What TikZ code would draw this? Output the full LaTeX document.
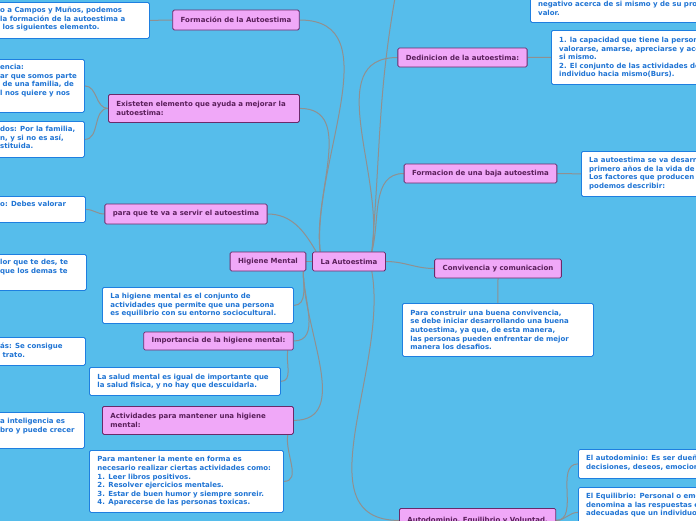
\documentclass[tikz,border=0pt]{standalone}
\usepackage{fontspec}
\setmainfont{DejaVu Sans}
\hyphenpenalty=10000
\exhyphenpenalty=10000
\definecolor{bg}{HTML}{56BDEB}
\definecolor{pk}{HTML}{F0A8F8}
\definecolor{pkd}{HTML}{6A2A6A}
\definecolor{pkt}{HTML}{5A1F5A}
\definecolor{bl}{HTML}{1E7FE0}
\definecolor{blt}{HTML}{1F74D4}
\definecolor{ln}{HTML}{909090}
\pgfdeclarelayer{bgl}
\pgfdeclarelayer{lines}
\pgfsetlayers{bgl,lines,main}
\tikzset{
 fnt/.style={font=\bfseries\fontsize{7}{8.6}\selectfont},
 pbox/.style={fnt,fill=pk,draw=pkd,line width=0.8pt,rounded corners=1.5pt,text=pkt,align=left,inner xsep=8pt,inner ysep=0pt},
 wbox/.style={fnt,fill=white,draw=bl,line width=0.8pt,rounded corners=1.5pt,text=blt,align=left,inner xsep=8pt,inner ysep=0pt,anchor=north west},
 ebox/.style={fill=white,draw=bl,line width=0.8pt,rounded corners=1.5pt,anchor=north west,inner sep=0pt},
 etxt/.style={fnt,text=blt,align=left,anchor=north west,inner sep=0pt},
 con/.style={draw=ln,line width=1pt},
}
\begin{document}
\begin{tikzpicture}[x=1pt,y=-1pt]
\useasboundingbox (0,0) rectangle (696,520);
\clip (0,0) rectangle (696,520);
\begin{pgfonlayer}{bgl}
\fill[bg] (-5,-5) rectangle (701,525);
\end{pgfonlayer}
% main nodes
\node[pbox,minimum width=72,minimum height=19] (c) at (349,261.5) {La Autoestima};
\node[pbox,minimum width=126,minimum height=20] (f) at (236,20) {Formación de la Autoestima};
\node[pbox,minimum width=191,minimum height=28,anchor=north west,text width=175] (e) at (108,94) {Existeten elemento que ayuda a mejorar la autoestima:};
\node[pbox,minimum width=160,minimum height=20] (p) at (186,214) {para que te va a servir el autoestima};
\node[pbox,minimum width=74,minimum height=19] (h) at (268,261.5) {Higiene Mental};
\node[pbox,minimum width=147,minimum height=18] (im) at (218.5,341) {Importancia de la higiene mental:};
\node[pbox,minimum width=191,minimum height=28,anchor=north west,text width=175] (ac) at (102,406) {Actividades para mantener una higiene mental:};
\node[pbox,minimum width=127,minimum height=19] (d) at (462.5,57.5) {Dedinicion de la autoestima:};
\node[pbox,minimum width=151,minimum height=19] (b) at (480.5,173.5) {Formacion de una baja autoestima};
\node[pbox,minimum width=126,minimum height=19] (cv) at (498,268.5) {Convivencia y comunicacion};
\node[pbox,minimum width=155,minimum height=24,anchor=north west] (au) at (399,508) {Autodominio, Equilibrio y Voluntad.};
% white boxes
\node[ebox,minimum width=200,minimum height=36] (fb) at (-51,2) {};
\node[etxt] (fbt) at (0,7) {o a Campos y Muños, podemos\\la formación de la autoestima a\\\ los siguientes elemento.};
\node[ebox,minimum width=134,minimum height=53] (e1) at (-50,59) {};
\node[etxt] (e1t) at (0,64) {encia:\\ar que somos parte\\\ de una familia, de\\l nos quiere y nos};
\node[ebox,minimum width=134,minimum height=36] (e2) at (-50,121) {};
\node[etxt] (e2t) at (0,126) {dos:  Por la familia,\\n, y si no es así,\\stituida.};
\node[ebox,minimum width=135,minimum height=26] (p1) at (-50,196) {};
\node[etxt] (p1t) at (0,201) {o: Debes valorar};
\node[ebox,minimum width=136,minimum height=36] (p2) at (-50,254) {};
\node[etxt] (p2t) at (0,259) {lor que te des, te\\que los demas te};
\node[ebox,minimum width=135,minimum height=28] (p3) at (-50,337) {};
\node[etxt] (p3t) at (0,343) {ás: Se consigue\\\ trato.};
\node[ebox,minimum width=134,minimum height=36] (p4) at (-50,412) {};
\node[etxt] (p4t) at (0,418) {a inteligencia es\\bro y puede crecer};
\node[wbox,minimum width=191,minimum height=36,text width=175] (h1) at (102,287) {La higiene mental es el conjunto de actividades que permite que una persona es equilibrio con su entorno sociocultural.};
\node[wbox,minimum width=191,minimum height=28,text width=175] (s1) at (89,367) {La salud mental es igual de importante que la salud fisica, y no hay que descuidarla.};
\node[wbox,minimum width=191,minimum height=62,text width=178] (a1) at (89,450) {Para mantener la mente en forma es necesario realizar ciertas actividades como:\\1. Leer libros positivos.\\2. Resolver ejercicios mentales.\\3. Estar de buen humor y siempre sonreir.\\4. Aparecerse de las personas toxicas.};
\node[ebox,minimum width=200,minimum height=40] (tr) at (530,-18) {};
\node[etxt] (trt) at (538,1) {negativo acerca de si mismo y de su pro\\valor.};
\node[ebox,minimum width=200,minimum height=54] (db) at (551,30) {};
\node[etxt] (dbt) at (559,37) {1. la capacidad que tiene la persona\\valorarse, amarse, apreciarse y ace\\si mismo.\\2. El conjunto de las actividades de\\individuo hacia mismo(Burs).};
\node[ebox,minimum width=200,minimum height=45] (bb) at (581,151) {};
\node[etxt] (bbt) at (589,157) {La autoestima se va desarro\\primero años de la vida de\\Los factores que producen\\podemos describir:};
\node[wbox,minimum width=191,minimum height=53,text width=175] (cb) at (402,303) {Para construir una buena convivencia, se debe iniciar desarrollando una buena autoestima, ya que, de esta manera, las personas pueden enfrentar de mejor manera los desafios.};
\node[ebox,minimum width=200,minimum height=29] (a2) at (578,449) {};
\node[etxt] (a2t) at (586,455) {El autodominio: Es ser dueñ\\decisiones, deseos, emocion};
\node[ebox,minimum width=200,minimum height=50] (a3) at (578,487) {};
\node[etxt] (a3t) at (586,493) {El Equilibrio: Personal o eme\\denomina a las respuestas e\\adecuadas que un individuo};
\coordinate (top) at (395,-2);
% connectors
\begin{pgfonlayer}{lines}
\path[con] (c.north west) ++(8,0) coordinate (cn) to[out=95,in=0] (f.east);
\path[con] (cn) to[out=98,in=0] (e.east);
\path[con] (c.north west) ++(4,0) to[out=120,in=0] (p.east);
\path[con] (c.west) -- (h.east);
\path[con] (c.north east) ++(-14,0) coordinate (ce) to[out=85,in=-100] (top);
\path[con] (ce) to[out=80,in=180] (d.west);
\path[con] (ce) to[out=75,in=180] (b.west);
\path[con] (c.east) to[out=0,in=180] (cv.west);
\path[con] (c.south east) ++(-14,0) to[out=-80,in=180] (au.west);
\path[con] (f.west) -- (fb.east);
\path[con] (e.west) to[out=180,in=0] (e1.east);
\path[con] (e.west) to[out=180,in=0] (e2.east);
\path[con] (p.west) to[out=180,in=0] (p1.east);
\path[con] (h.south east) ++(-3,0) coordinate (hs) to[out=-90,in=0] (h1.east);
\path[con] (hs) to[out=-90,in=0] (im.east);
\path[con] (hs) to[out=-90,in=0] (ac.east);
\path[con] (im.south east) ++(-6,0) to[out=-100,in=0] (s1.east);
\path[con] (ac.south east) ++(-6,0) to[out=-100,in=0] (a1.east);
\path[con] (d.east) -- (db.west);
\path[con] (b.east) -- (bb.west);
\path[con] (cv.south) -- (cb.north);
\path[con] (au.east) to[out=0,in=180] (a2.west);
\path[con] (au.east) to[out=0,in=180] (a3.west);
\end{pgfonlayer}
\end{tikzpicture}
\end{document}
